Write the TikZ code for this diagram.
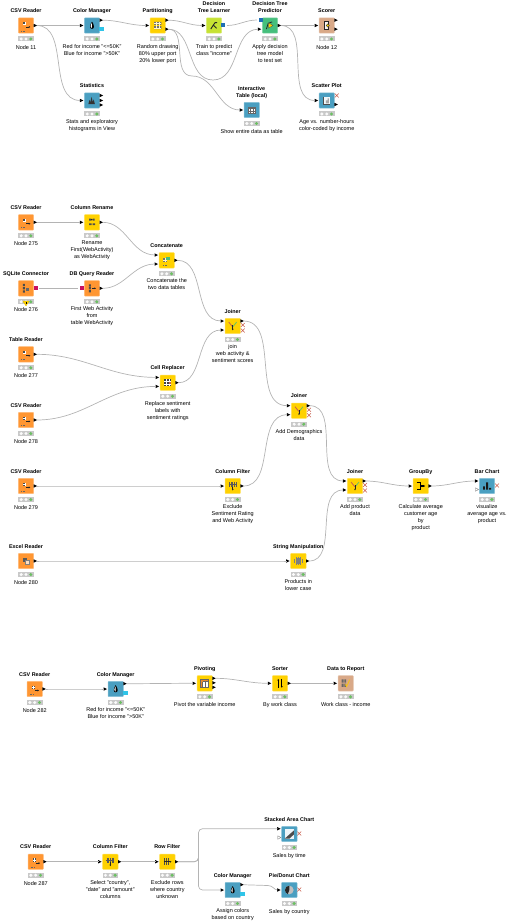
\documentclass[tikz,border=0pt]{standalone}
\usepackage{fontspec}
\setmainfont{Liberation Sans}
\usetikzlibrary{arrows.meta,positioning,calc,shapes.misc}
\definecolor{rd}{HTML}{FF9632}
\definecolor{mn}{HTML}{FFD100}
\definecolor{vz}{HTML}{4A9FC1}
\definecolor{lr}{HTML}{C6E233}
\definecolor{pr}{HTML}{45BF7C}
\definecolor{ot}{HTML}{D9A988}
\definecolor{wirec}{HTML}{B4B4B4}
\definecolor{lampbar}{HTML}{C9C9C9}
\definecolor{lampon}{HTML}{6CBF63}
\definecolor{modelc}{HTML}{1F6FB5}
\definecolor{colorc}{HTML}{2FC4E8}
\definecolor{dbc}{HTML}{C9105F}
\definecolor{xred}{HTML}{C8604F}
\definecolor{icono}{HTML}{E88A2C}
\tikzset{
  wfnode/.style={rounded corners=.8pt, minimum size=15.4pt, inner sep=0pt, line width=.5pt},
  lampbox/.style={fill=lampbar, minimum width=15.6pt, minimum height=5pt, inner sep=0pt},
  wftitle/.style={font=\fontsize{5.4}{7}\selectfont\bfseries, align=center, anchor=south, inner sep=0pt,
                  execute at begin node=\strut, execute at end node=\strut},
  wflabel/.style={font=\fontsize{5.5}{7}\selectfont, align=center, anchor=north, inner sep=0pt,
                  execute at begin node=\strut, execute at end node=\strut},
  wire/.style={draw=wirec, line width=.7pt, shorten <=1.4pt, shorten >=1.4pt},
  sqport/.style={minimum size=4pt, inner sep=0pt},
  xport/.style={cross out, draw=xred, line width=.6pt, minimum size=3.2pt, inner sep=0pt},
  ink/.style={black!85, line width=.5pt},
  tip/.style={-{Stealth[length=1.6pt,width=1.8pt]}},
  ic read/.pic={\fill[black!70] (-4,-4.5) rectangle (.5,0);
    \draw[white,line width=.3pt] (-1.75,-4.5) -- (-1.75,0) (-4,-2.2) -- (.5,-2.2);
    \draw[ink,tip] (0,2) -- (6,2);
    \foreach \u in {-6.5,-4.5,-2.5} \fill[black!60] (\u,7) rectangle (\u+1,8);},
  ic xls/.pic={\fill[black!65] (-4.5,-4.5) rectangle (1,1);
    \draw[black!50,fill=white!70!rd,line width=.4pt] (-.5,-.5) rectangle (4.5,4.5);},
  ic drop/.pic={\fill[black] (0,-5.5) .. controls (-3.6,0) and (-3.6,4.6) .. (0,4.6) .. controls (3.6,4.6) and (3.6,0) .. (0,-5.5);
    \fill[white] (-.2,-3.5) .. controls (-2.5,0) and (-2.5,3.6) .. (-.2,3.6) -- cycle;},
  ic part/.pic={\fill[black!55] (-5,-5) rectangle (5,-.9) (-5,.9) rectangle (5,5);
    \draw[white!80!mn,line width=.3pt] (-1.6,-5) -- (-1.6,5) (1.6,-5) -- (1.6,5) (-5,-3) -- (5,-3) (-5,3) -- (5,3);},
  ic tree/.pic={\draw[ink,line width=.9pt] (-4.5,5) -- (-1,-.5) -- (1.5,-4) -- (4.5,-4) (-1,-.5) -- (3.5,4);},
  ic pred/.pic={\draw[ink,line width=.8pt] (-5,5) -- (-2.5,-3) -- (3,-5);
    \draw[black!70,fill=mn,line width=.3pt] (-2,-3.6) -- (4.2,0) -- (-2,3.6) -- cycle;},
  ic score/.pic={\fill[white!90!ot] (-4,-5.5) rectangle (2.5,5.5);
    \draw[ink,line width=.3pt] (-4,-5.5) rectangle (2.5,5.5);
    \draw[black!80,fill=mn,line width=.3pt] (1.5,0) circle (2.2);},
  ic stat/.pic={\fill[black!80] (-5,5) -- (-3.6,-1) -- (-2.4,2.5) -- (-.5,-5) -- (1,2.5) -- (2.3,-1.5) -- (4,5) -- cycle;},
  ic table/.pic={\fill[white] (-5,-4.5) rectangle (5,4.5);
    \fill[icono] (-5,-4.5) rectangle (5,-2);
    \draw[black!60,line width=.3pt] (-5,-4.5) rectangle (5,4.5) (-5,-2) -- (5,-2) (-5,1) -- (5,1) (-1.7,-4.5) -- (-1.7,4.5) (1.7,-4.5) -- (1.7,4.5);},
  ic scat/.pic={\fill[white!92!vz] (-5,-5) rectangle (4.5,4.5);
    \fill[black!35] (-1,0) rectangle (.8,4) (1.3,-3) rectangle (3.1,4);
    \draw[black!70,line width=.4pt] (-5,-5) -- (-5,4.5) -- (4.5,4.5);},
  ic ren/.pic={\fill[black!70] (-4,-5) rectangle (-1.5,-2.5) (1,-5) rectangle (3.5,-2.5) (-4,1.5) rectangle (-.5,4) (1,1.5) rectangle (4.5,4);
    \draw[ink,tip,line width=.4pt] (-1.5,-3.7) -- (1,-3.7);},
  ic conc/.pic={\fill[black!55] (-5,-3.5) rectangle (0,2.5);
    \fill[pr] (-1.5,-4.5) rectangle (4.5,-.5);
    \draw[white!80!mn,line width=.3pt] (-5,-.5) -- (0,-.5) (-2.5,-3.5) -- (-2.5,2.5);
    \foreach \u in {-4.5,-2.5,-.5} \fill[black!60] (\u,6.5) rectangle (\u+1,7.5);},
  ic join/.pic={\draw[xred,line width=.8pt] (-5.5,-5.5) -- (-.3,1);
    \draw[pr!80!mn,line width=.8pt] (5.5,-5.5) -- (.3,1);
    \draw[ink,tip,line width=.7pt] (0,-1) -- (0,6);},
  ic cell/.pic={\fill[black!75] (-5,-4.5) rectangle (5,4.5);
    \draw[white,line width=.4pt] (-1.7,-4.5) -- (-1.7,4.5) (1.7,-4.5) -- (1.7,4.5) (-5,-1.5) -- (5,-1.5) (-5,1.5) -- (5,1.5);
    \fill[xred] (1.9,-1.3) rectangle (4.8,1.3);},
  ic filt/.pic={\foreach \u in {-4.5,-2.2,0,2.2,4.5} \draw[black!65,line width=.45pt] (\u,-5.5) -- (\u,1.5);
    \draw[black!65,line width=.45pt] (-5.5,-2) -- (5.5,-2);
    \draw[ink,tip] (0,1) -- (0,6.2);},
  ic rowf/.pic={\foreach \u in {-4,-1.5,1} \draw[black!70,line width=.8pt] (\u,-4.5) -- (\u,4.5);
    \draw[ink,tip] (-5,0) -- (5.8,0);},
  ic str/.pic={\foreach \u/\h in {-5/2.5,-3.3/5,-1.6/3.5,0/5.5,1.6/3.5,3.3/5,5/2.5} \draw[black!50,line width=.6pt] (\u,-\h) -- (\u,\h);},
  ic grp/.pic={\draw[black,line width=1.1pt] (-5.5,-4.5) -- (-.2,-4.5) -- (-.2,4.5) -- (-5.5,4.5);
    \draw[black,line width=1.1pt,tip] (-.2,0) -- (6,0);},
  ic bars/.pic={\fill[black!90] (-5.5,5) rectangle (-2.8,.5) (-1.2,5) rectangle (1.5,-5) (3,5) rectangle (5.7,2.5);},
  ic pivot/.pic={\fill[white] (-6,-5.5) rectangle (5,5.5);
    \fill[icono] (-6,-5.5) rectangle (5,-2.5) (-6,-2.5) rectangle (-3,5.5);
    \draw[black!60,line width=.3pt] (-6,-5.5) rectangle (5,5.5) (-3,-2.5) -- (5,-2.5) (-3,-2.5) -- (-3,5.5) (1,-2.5) -- (1,5.5);},
  ic sort/.pic={\draw[black,line width=.9pt,tip] (-2.5,6) -- (-2.5,-6);
    \draw[black,line width=.9pt,tip] (2.5,-6) -- (2.5,6);},
  ic rep/.pic={\fill[black!60] (-5.5,-5.5) rectangle (-3,-1) (-5.5,.5) rectangle (-3,5) (-2,-5.5) rectangle (.5,-1) (-2,.5) rectangle (.5,5);
    \draw[mn!80!icono,line width=.8pt] (-.5,1.5) -- (1.2,4.5) -- (5.5,-5);},
  ic area/.pic={\fill[white!90!vz] (-6.5,-6.5) rectangle (6.5,6.5);
    \fill[black!70] (-6.5,6.5) -- (6.5,-5) -- (6.5,.5) -- (0,6.5) -- cycle;},
  ic pie/.pic={\fill[black!25] (0,0) circle (6);
    \fill[black!85] (0,0) -- (0,-6) arc[start angle=-90,end angle=-250,radius=6] -- cycle;},
  ic sql/.pic={\fill[black!70] (-4.5,-6) rectangle (-1.5,-3) (-4.5,-1.5) rectangle (-1.5,1.5) (-4.5,3) rectangle (-1.5,6);
    \fill[black!60] (.5,-.5) rectangle (4.5,4);},
  ic dbq/.pic={\fill[black!70] (-4.5,-5.5) rectangle (-1.5,-2.5) (-4.5,-1.5) rectangle (-1.5,1.5) (-4.5,2.5) rectangle (-1.5,5.5);
    \draw[ink,tip] (.3,0) -- (5.5,0);},
}
\begin{document}
\begin{tikzpicture}[x=1pt, y=-1pt]
  \useasboundingbox (0,0) rectangle (512,923);
  \foreach \nm/\px/\py/\col/\ic/\ins/\outs/\ti/\la in {
      c11/26/25.5/rd/read/{}/{0}/CSV Reader/Node 11,
      cm1/92/25.5/vz/drop/{0}/{-5.3}/Color Manager/{Red for income "<=50K"\\Blue for income ">50K"},
      part/157.7/25.5/mn/part/{0}/{-5.3,3.7}/Partitioning/{Random drawing\\80\% upper port\\20\% lower port},
      dtl/214/25.5/lr/tree/{0}/{}/{Decision\\Tree Learner}/{Train to predict\\class "income"},
      dtp/270/25.5/pr/pred/{3.7}/{0}/{Decision Tree\\Predictor}/{Apply decision\\tree model\\to test set},
      scr/326.7/25.5/ot/score/{0}/{-5.3,3.7}/Scorer/Node 12,
      stt/92/100.5/vz/stat/{0}/{-5,0,4.5}/Statistics/{Stats and exploratory\\histograms in View},
      itb/251.7/110/vz/table/{0}/{}/{Interactive\\Table (local)}/Show entire data as table,
      sct/326.7/100.5/vz/scat/{0}/{4}/Scatter Plot/{Age vs. number-hours\\color-coded by income},
      c275/26/222.3/rd/read/{}/{0}/CSV Reader/Node 275,
      ren/92/222.3/mn/ren/{0}/{0}/Column Rename/{Rename\\First(WebActivity)\\as WebActivity},
      con/166.7/260.3/mn/conc/{-5.3,3.7}/{0}/Concatenate/{Concatenate the\\two data tables},
      sql/26/288.3/rd/sql/{}/{}/SQLite Connector/Node 276,
      dbq/92/288.3/rd/dbq/{}/{0}/DB Query Reader/{First Web Activity\\from\\table WebActivity},
      jn1/232.7/326/mn/join/{-5,4}/{-5}/Joiner/{join\\web activity \&\\sentiment scores},
      tbr/26/354.3/rd/read/{}/{0}/Table Reader/Node 277,
      cel/167.7/382.7/mn/cell/{-5.3,3.7}/{0}/Cell Replacer/{Replace sentiment\\labels with\\sentiment ratings},
      c278/26/420/rd/read/{}/{0}/CSV Reader/Node 278,
      c279/26/486/rd/read/{}/{0}/CSV Reader/Node 279,
      cf1/232.7/486/mn/filt/{0}/{0}/Column Filter/{Exclude\\Sentiment Rating\\and Web Activity},
      xls/26/561/rd/xls/{}/{0}/Excel Reader/Node 280,
      jn2/299/410.7/mn/join/{-5,4}/{-5}/Joiner/{Add Demographics\\data},
      jn3/355/486/mn/join/{-5,4}/{-5}/Joiner/{Add product\\data},
      grp/420.7/486/mn/grp/{0}/{0}/GroupBy/{Calculate average\\customer age\\by\\product},
      bar/487/486/vz/bars/{-5}/{}/Bar Chart/{visualize\\average age vs.\\product},
      stm/298.3/561/mn/str/{0}/{0}/String Manipulation/{Products in\\lower case},
      c282/34.7/689/rd/read/{}/{0}/CSV Reader/Node 282,
      cm2/115.7/689/vz/drop/{0}/{-5.3}/Color Manager/{Red for income "<=50K"\\Blue for income ">50K"},
      piv/204.7/683.3/mn/pivot/{0}/{-5,-.5,4}/Pivoting/Pivot the variable income,
      srt/280/683.3/mn/sort/{0}/{0}/Sorter/By work class,
      rep/345.7/683.3/ot/rep/{0}/{}/Data to Report/Work class - income,
      c287/35.7/861.7/rd/read/{}/{0}/CSV Reader/Node 287,
      cf2/110.3/861.7/mn/filt/{0}/{0}/Column Filter/{Select "country",\\"date" and "amount"\\columns},
      rwf/167.3/861.7/mn/rowf/{0}/{0}/Row Filter/{Exclude rows\\where country\\unknown},
      sac/289.3/834/vz/area/{-5.3}/{}/Stacked Area Chart/Sales by time,
      cm3/232.7/890/vz/drop/{0}/{-5.3}/Color Manager/{Assign colors\\based on country},
      pie/289.3/890/vz/pie/{0}/{}/{Pie/Donut Chart}/Sales by country}
  {
    \node[wfnode, fill=\col, draw=\col!65!white] (\nm) at (\px,\py) {};
    \pic[scale=.72] at (\px,\py) {ic \ic};
    \node[lampbox] (\nm-s) at (\px,\py+13.5) {};
    \fill[white!90!lampbar] (\px-4.8,\py+13.5) circle (1.7) (\px,\py+13.5) circle (1.7);
    \fill[lampon] (\px+4.8,\py+13.5) circle (1.7);
    \node[wftitle] (\nm-t) at (\px,\py-10.5) {\ti};
    \node[wflabel] (\nm-l) at (\px,\py+18.5) {\la};
    \ifx\ins\empty\else
      \foreach \dy [count=\k] in \ins {
        \coordinate (\nm-i\k) at (\px-10.4,\py+\dy);
        \fill (\nm-i\k) ++(-1.7,-1.7) -- ++(3.4,1.7) -- ++(-3.4,1.7) -- cycle;
      }
    \fi
    \ifx\outs\empty\else
      \foreach \dy [count=\k] in \outs {
        \coordinate (\nm-o\k) at (\px+9.4,\py+\dy);
        \fill (\nm-o\k) ++(-1.7,-1.7) -- ++(3.4,1.7) -- ++(-3.4,1.7) -- cycle;
      }
    \fi
  }
  \node[sqport, fill=modelc] (dtl-m) at (223.4,25.5) {};
  \node[sqport, fill=modelc] (dtp-m) at (260.6,20) {};
  \node[sqport, fill=dbc] (sql-d) at (35.7,288.3) {};
  \node[sqport, fill=dbc] (dbq-d) at (82,288.3) {};
  \foreach \nm in {cm1,cm2,cm3}
    \node[fill=colorc, minimum width=5pt, minimum height=4pt, inner sep=0pt] (\nm-c) at ($(\nm.center)+(9.3,4)$) {};
  \foreach \nm/\dx/\dy in {jn1/10/-1, jn1/10/4.5, jn2/10/-1, jn2/10/4.5, jn3/10/-1, jn3/10/4.5,
                           sct/10/-5, bar/10/-.5, sac/10/-.5, pie/10/-.5}
    \node[xport] at ($(\nm.center)+(\dx,\dy)$) {};
  \foreach \nm in {bar,sac}
    \draw[black!55, fill=white, line width=.35pt] ($(\nm.center)+(-11.5,1.8)$) -- ++(3,1.7) -- ++(-3,1.7) -- cycle;
  % warning sign of the connector
  \fill[mn, draw=mn!85!black, line width=.2pt, rounded corners=.3pt] (26,306) -- (29.3,301) -- (22.7,301) -- cycle;
  \fill[black] (25.6,302.3) rectangle (26.4,304.3);
  % connectors
  \coordinate (kink) at (192,76);
  \coordinate (dip) at (213,80);
  \coordinate (cmbend) at (268,885.5);
  \coordinate (rwfork) at (198.5,850);
  \foreach \a/\b in {c11-o1/cm1-i1, c11-o1/stt-i1, cm1-o1/part-i1, part-o1/dtl-i1, dtl-m/dtp-m, dtp-o1/scr-i1, dtp-o1/sct-i1,
                     c275-o1/ren-i1, ren-o1/con-i1, sql-d/dbq-d, dbq-o1/con-i2, con-o1/jn1-i1, tbr-o1/cel-i1, c278-o1/cel-i2,
                     cel-o1/jn1-i2, jn1-o1/jn2-i1, c279-o1/cf1-i1, cf1-o1/jn2-i2, jn2-o1/jn3-i1, xls-o1/stm-i1, stm-o1/jn3-i2,
                     jn3-o1/grp-i1, grp-o1/bar-i1, c282-o1/cm2-i1, cm2-o1/piv-i1, piv-o1/srt-i1, srt-o1/rep-i1,
                     c287-o1/cf2-i1, cf2-o1/rwf-i1}
    \draw[wire] (\a) to[out=0, in=180] (\b);
  \draw[wire] (part-o2) to[out=0, in=180] (dip) to[out=0, in=180] (dtp-i1);
  \draw[wire] (part-o2) to[out=0, in=180] (kink) to[out=0, in=180] (itb-i1);
  \draw[wire] (cm3-o1) -- (cmbend) to[out=0, in=180] (pie-i1);
  \draw[wire, rounded corners=4pt] (rwf-o1) -| (rwfork) |- (sac-i1);
  \draw[wire, rounded corners=4pt] (rwf-o1) -| (rwfork) |- (cm3-i1);
\end{tikzpicture}
\end{document}
